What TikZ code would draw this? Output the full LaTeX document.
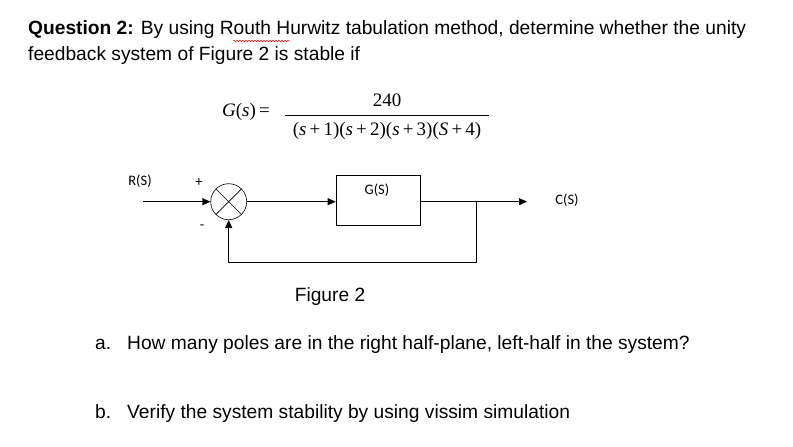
\documentclass[tikz,border=0pt]{standalone}
\usepackage{fontspec}
\setmainfont{Liberation Sans}
\newfontfamily\serifff{Liberation Serif}
\newfontfamily\calib{Carlito}
\usetikzlibrary{arrows.meta,decorations.pathmorphing}
\begin{document}
\begin{tikzpicture}[x=1pt,y=-1pt,
  txt/.style={anchor=west,inner sep=0pt,font=\fontsize{19.2}{22}\selectfont},
  lbl/.style={inner sep=0pt,font=\calib\fontsize{14.5}{17}\selectfont},
  frm/.style={inner sep=0pt,font=\serifff\fontsize{19}{22}\selectfont},
  sig/.style={-{Triangle[length=8pt,width=7pt]},line width=0.7pt},
  ln/.style={line width=0.7pt}]
\useasboundingbox (0,0) rectangle (793,447);
\node[txt] (q1) at (28,30) {\textbf{Question 2:} By using Routh Hurwitz tabulation method, determine whether the unity};
\node[txt] (q2) at (28,56) {feedback system of Figure 2 is stable if};
\draw[red,line width=0.5pt,decoration={snake,segment length=3pt,amplitude=0.8pt},decorate] (233,41) -- (290,41);
\node[frm] (gs) at (246,112) {\textit{G}(\textit{s})\,=};
\node[frm] (num) at (387,100) {240};
\node[frm] (den) at (387,131) {(\textit{s}\,+\,1)(\textit{s}\,+\,2)(\textit{s}\,+\,3)(\textit{S}\,+\,4)};
\draw[line width=0.6pt] (285,115) -- (489,115);
% block diagram
\coordinate (in) at (143,201.7);
\node[circle,draw,line width=0.6pt,minimum size=36pt,inner sep=0pt] (sum) at (228.7,201.7) {};
\draw[line width=0.6pt] (sum.north west) -- (sum.south east) (sum.north east) -- (sum.south west);
\node[draw,line width=0.7pt,minimum width=84pt,minimum height=50pt,inner sep=0pt] (G) at (378,200) {};
\node[lbl] (Gt) at (377,190) {G(S)};
\coordinate (br) at (476,201.7);
\coordinate (out) at (527,201.7);
\coordinate (fb1) at (476,262.7);
\coordinate (fb2) at (228.7,262.7);
\draw[sig] (in) -- (sum.west);
\draw[sig] (sum.east) -- (G.west|-sum.east);
\draw[sig] (G.east|-br) -- (out);
\draw[ln] (br) -- (fb1) -- (fb2);
\draw[sig] (fb2) -- (sum.south);
\node[lbl] (R) at (140,181) {R(S)};
\node[lbl] (C) at (567,200) {C(S)};
\node[lbl] (plus) at (199,183) {+};
\node[lbl] (minus) at (202,227) {-};
\node[inner sep=0pt,font=\fontsize{19.2}{22}\selectfont] (fig) at (330,297) {Figure 2};
\node[txt] (a) at (95,345) {a.\hspace{16pt}How many poles are in the right half-plane, left-half in the system?};
\node[txt] (b) at (95,414) {b.\hspace{16pt}Verify the system stability by using vissim simulation};
\end{tikzpicture}
\end{document}
